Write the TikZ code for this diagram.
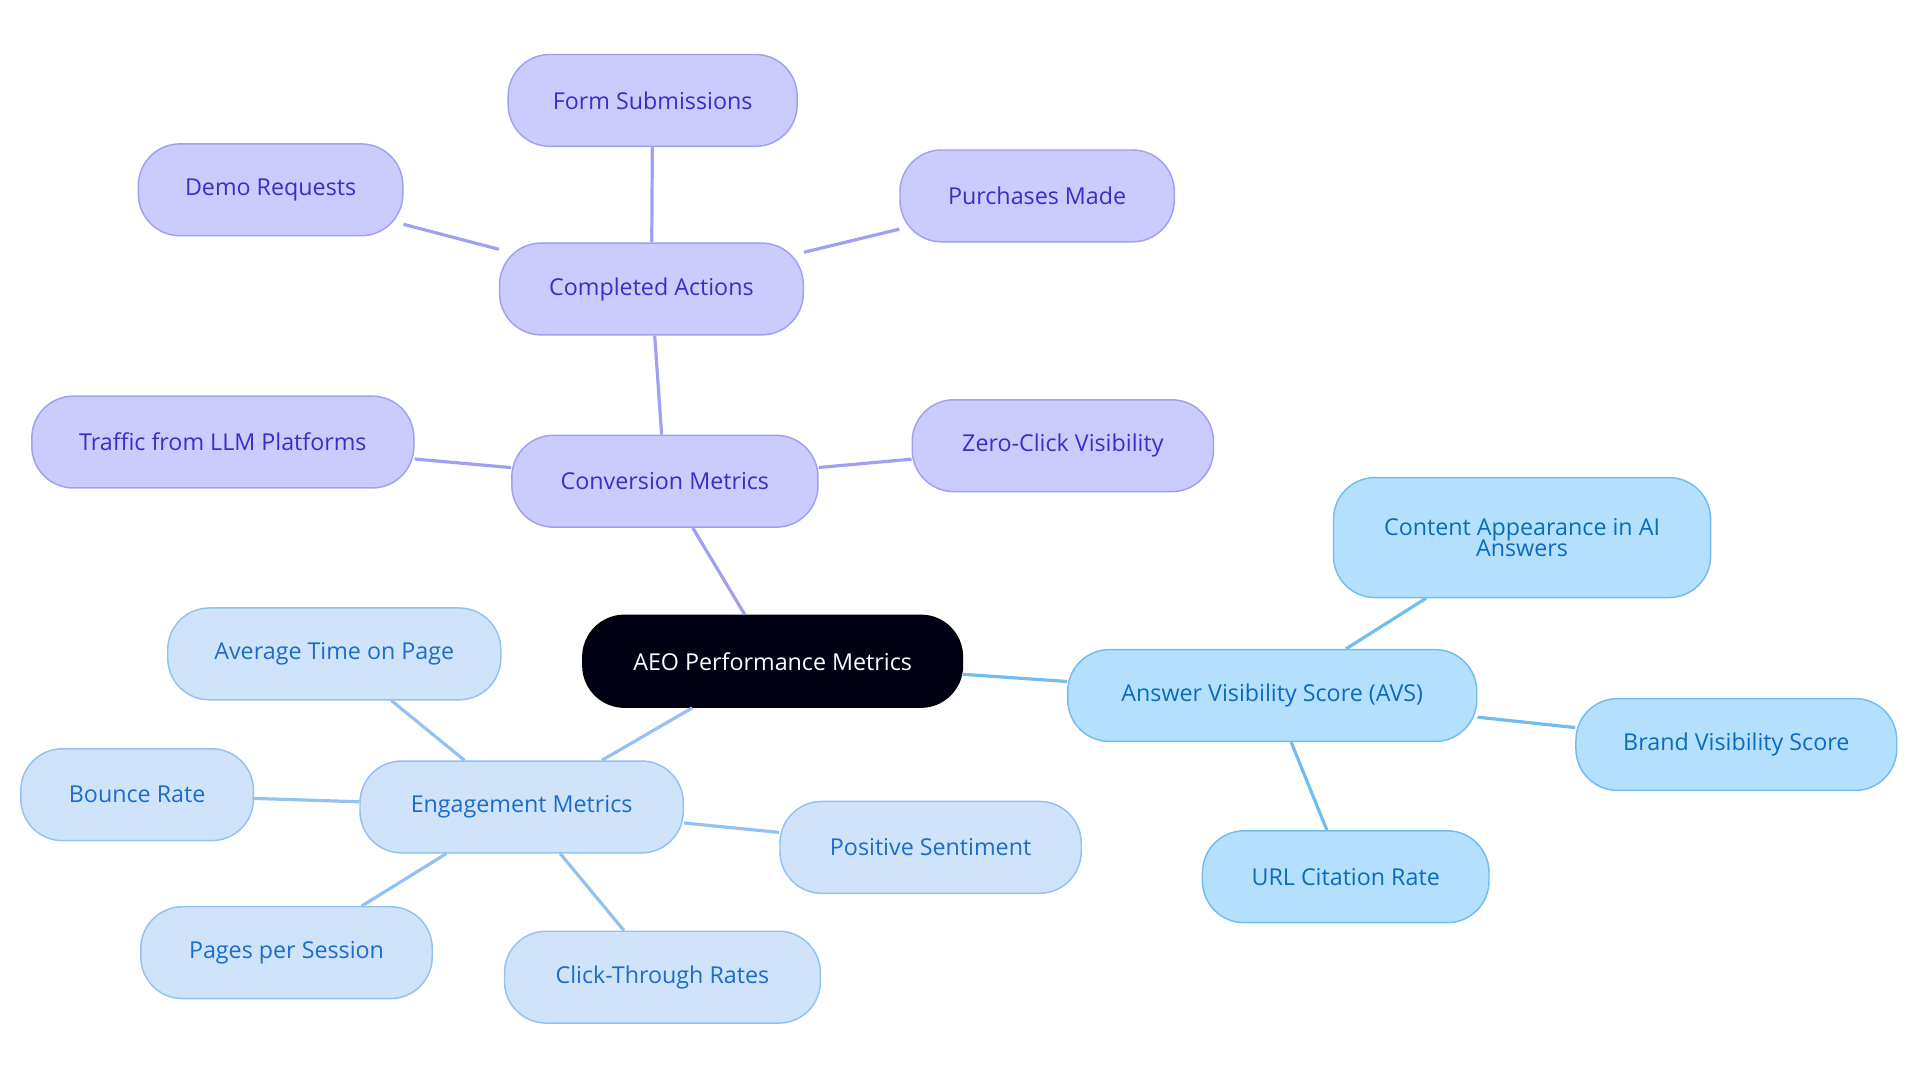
\documentclass[tikz,border=0pt]{standalone}
\usepackage{fontspec}
\setmainfont{Open Sans}
\begin{document}
\begin{tikzpicture}[x=1pt,y=-1pt,
 base/.style={rounded corners=34pt,minimum height=75pt,line width=1.2pt,font=\fontsize{19}{19}\selectfont,align=center,inner sep=0pt},
 pur/.style={base,fill=purple1,draw=purple2,text=purple3},
 eng/.style={base,fill=eng1,draw=eng2,text=eng3},
 avs/.style={base,fill=avs1,draw=avs2,text=avs3},
 pl/.style={draw=purple2,line width=2.6pt},
 el/.style={draw=eng2,line width=2.6pt},
 al/.style={draw=avs2,line width=2.6pt}]
\definecolor{purple1}{HTML}{CCCBFD}
\definecolor{purple2}{HTML}{A09FF2}
\definecolor{purple3}{HTML}{3B2DC8}
\definecolor{eng1}{HTML}{CFE3FB}
\definecolor{eng2}{HTML}{94C2F0}
\definecolor{eng3}{HTML}{1D6CC9}
\definecolor{avs1}{HTML}{B4E0FE}
\definecolor{avs2}{HTML}{72BDEE}
\definecolor{avs3}{HTML}{0B6BBE}
\useasboundingbox (0,0) rectangle (1568,884);
\node[base,fill=black!90!blue!80!black,draw=black,text=white,minimum width=310pt] (root) at (631,540) {AEO Performance Metrics};
\node[pur,minimum width=250pt] (conv) at (543,393) {Conversion Metrics};
\node[pur,minimum width=248pt] (comp) at (532,236) {Completed Actions};
\node[pur,minimum width=236pt] (form) at (533,82) {Form Submissions};
\node[pur,minimum width=216pt] (demo) at (221,155) {Demo Requests};
\node[pur,minimum width=224pt] (purch) at (847,160) {Purchases Made};
\node[pur,minimum width=312pt] (llm) at (182,361) {Traffic from LLM Platforms};
\node[pur,minimum width=246pt] (zero) at (868,364) {Zero-Click Visibility};
\node[eng,minimum width=264pt] (eng) at (426,659) {Engagement Metrics};
\node[eng,minimum width=272pt] (avg) at (273,534) {Average Time on Page};
\node[eng,minimum width=190pt] (bounce) at (112,649) {Bounce Rate};
\node[eng,minimum width=238pt] (pages) at (234,778) {Pages per Session};
\node[eng,minimum width=258pt] (ctr) at (541,798) {Click-Through Rates};
\node[eng,minimum width=246pt] (pos) at (760,692) {Positive Sentiment};
\node[avs,minimum width=334pt] (avs) at (1039,568) {Answer Visibility Score (AVS)};
\node[avs,minimum width=308pt,minimum height=98pt] (cont) at (1243,439) {Content Appearance in AI\\[-2pt]Answers};
\node[avs,minimum width=262pt] (brand) at (1418,608) {Brand Visibility Score};
\node[avs,minimum width=234pt] (url) at (1099,716) {URL Citation Rate};
\draw[pl] (root) -- (conv);
\draw[pl] (conv) -- (comp);
\draw[pl] (comp) -- (form);
\draw[pl] (comp) -- (demo);
\draw[pl] (comp) -- (purch);
\draw[pl] (conv) -- (llm);
\draw[pl] (conv) -- (zero);
\draw[el] (root) -- (eng);
\draw[el] (eng) -- (avg);
\draw[el] (eng) -- (bounce);
\draw[el] (eng) -- (pages);
\draw[el] (eng) -- (ctr);
\draw[el] (eng) -- (pos);
\draw[al] (root) -- (avs);
\draw[al] (avs) -- (cont);
\draw[al] (avs) -- (brand);
\draw[al] (avs) -- (url);
\end{tikzpicture}
\end{document}
